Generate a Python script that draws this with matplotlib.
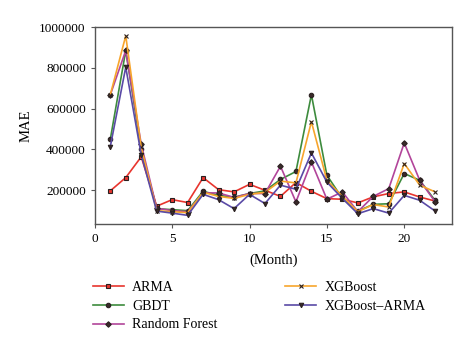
import matplotlib.pyplot as plt

plt.rcParams['font.family'] = ['Liberation Serif', 'DejaVu Serif']

months = list(range(1, 23))

arma = [197000, 262000, 364000, 122000, 154000, 140000, 262000, 203000, 192000, 229000, 200000,
        170000, 238000, 195000, 159000, 156000, 138000, 168000, 184000, 192000, 167000, 147000]
gbdt = [449000, 884000, 400000, 110000, 105000, 100000, 195000, 175000, 166000, 184000, 197000,
        253000, 292000, 668000, 274000, 160000, 98000, 131000, 134000, 282000, 249000, 150000]
rf = [667000, 885000, 426000, 112000, 100000, 95000, 187000, 187000, 165000, 184000, 184000,
      318000, 143000, 339000, 156000, 192000, 95000, 170000, 208000, 432000, 249000, 143000]
xgb = [667000, 957000, 410000, 100000, 95000, 90000, 190000, 170000, 160000, 180000, 190000,
       245000, 236000, 536000, 249000, 170000, 95000, 130000, 118000, 331000, 225000, 192000]
xgb_arma = [413000, 803000, 375000, 98000, 88000, 77000, 180000, 154000, 110000, 180000, 135000,
            225000, 205000, 383000, 240000, 160000, 85000, 110000, 88000, 175000, 151000, 98000]

series = [
    ('ARMA', arma, '#e8352e', 's'),
    ('GBDT', gbdt, '#3d8b3d', 'o'),
    ('Random Forest', rf, '#b2459a', 'D'),
    ('XGBoost', xgb, '#f7a52c', 'x'),
    ('XGBoost\u2013ARMA', xgb_arma, '#5a4aa6', 'v'),
]

fig = plt.figure(figsize=(4.74, 3.51), dpi=100)
ax = fig.add_axes([0.200, 0.362, 0.754, 0.561])

for name, vals, col, mk in series:
    ms = 3.2 if mk != 'D' else 2.8
    ax.plot(months, vals, color=col, lw=1.2, label=name,
            marker=mk, markersize=ms, markerfacecolor='#3a2a2a' if mk != 's' else col,
            markeredgecolor='#2a2020', markeredgewidth=0.8)

ax.set_xlim(0, 23.1)
ax.set_ylim(35000, 1000000)
ax.set_xticks([0, 5, 10, 15, 20])
ax.set_yticks([200000, 400000, 600000, 800000, 1000000])
ax.set_yticklabels(['200000', '400000', '600000', '800000', '1000000'])

for sp in ax.spines.values():
    sp.set_color('#555555')
    sp.set_linewidth(1.0)
ax.tick_params(labelsize=9.5, length=3, color='#555555', width=0.8)

ax.set_xlabel('(Month)', fontsize=10.5, labelpad=6)
ax.set_ylabel('MAE', fontsize=10.5, labelpad=5)

fig.legend(loc='lower left', bbox_to_anchor=(0.17, 0.02), ncol=2, frameon=False,
           fontsize=10, handlelength=2.2, columnspacing=4.9, labelspacing=0.42,
           handletextpad=0.6)

fig.savefig('out.png', dpi=100)
